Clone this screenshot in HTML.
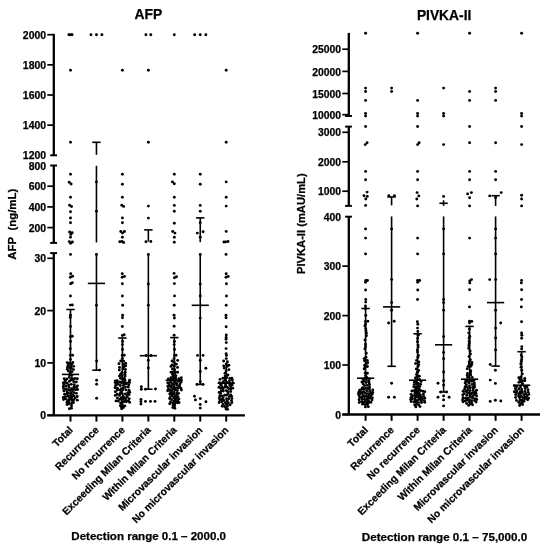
<!DOCTYPE html>
<html lang="en">
<head>
<meta charset="utf-8">
<title>AFP and PIVKA-II distribution</title>
<style>
html,body{margin:0;padding:0;background:#fff;}
body{width:550px;height:548px;overflow:hidden;}
svg{display:block;}
svg text{font-family:'Liberation Sans', Arial, Helvetica, sans-serif;font-weight:bold;fill:#000;stroke:#000;stroke-width:0.25px;stroke-linejoin:round;}
svg line{stroke:#000;stroke-linecap:butt;}
svg circle{fill:#000;}
</style>
</head>
<body>
<svg width="550" height="548" viewBox="0 0 550 548">
<rect x="0" y="0" width="550" height="548" fill="#ffffff"/>
<g>
<line x1="53.8" y1="33.85" x2="53.8" y2="155.3" stroke-width="2.3"/>
<line x1="53.8" y1="165.5" x2="53.8" y2="242.9" stroke-width="2.3"/>
<line x1="53.8" y1="253.1" x2="53.8" y2="415.3" stroke-width="2.3"/>
<line x1="47.3" y1="34.7" x2="53.8" y2="34.7" stroke-width="1.7"/>
<text x="46.1" y="38.86" font-size="10.45" text-anchor="end">2000</text>
<line x1="47.3" y1="64.85" x2="53.8" y2="64.85" stroke-width="1.7"/>
<text x="46.1" y="69.01" font-size="10.45" text-anchor="end">1800</text>
<line x1="47.3" y1="95" x2="53.8" y2="95" stroke-width="1.7"/>
<text x="46.1" y="99.16" font-size="10.45" text-anchor="end">1600</text>
<line x1="47.3" y1="125.15" x2="53.8" y2="125.15" stroke-width="1.7"/>
<text x="46.1" y="129.31" font-size="10.45" text-anchor="end">1400</text>
<text x="46.1" y="159.46" font-size="10.45" text-anchor="end">1200</text>
<text x="46.1" y="169.66" font-size="10.45" text-anchor="end">800</text>
<line x1="47.3" y1="186.2" x2="53.8" y2="186.2" stroke-width="1.7"/>
<text x="46.1" y="190.36" font-size="10.45" text-anchor="end">600</text>
<line x1="47.3" y1="206.9" x2="53.8" y2="206.9" stroke-width="1.7"/>
<text x="46.1" y="211.06" font-size="10.45" text-anchor="end">400</text>
<line x1="47.3" y1="227.6" x2="53.8" y2="227.6" stroke-width="1.7"/>
<text x="46.1" y="231.76" font-size="10.45" text-anchor="end">200</text>
<line x1="47.3" y1="258.3" x2="53.8" y2="258.3" stroke-width="1.7"/>
<text x="46.1" y="262.46" font-size="10.45" text-anchor="end">30</text>
<line x1="47.3" y1="310.6" x2="53.8" y2="310.6" stroke-width="1.7"/>
<text x="46.1" y="314.76" font-size="10.45" text-anchor="end">20</text>
<line x1="47.3" y1="362.9" x2="53.8" y2="362.9" stroke-width="1.7"/>
<text x="46.1" y="367.06" font-size="10.45" text-anchor="end">10</text>
<line x1="47.3" y1="415.3" x2="53.8" y2="415.3" stroke-width="1.7"/>
<text x="46.1" y="419.46" font-size="10.45" text-anchor="end">0</text>
<line x1="50.2" y1="155.3" x2="57" y2="155.3" stroke-width="2"/>
<line x1="50.2" y1="165.5" x2="57" y2="165.5" stroke-width="2"/>
<line x1="50.2" y1="242.9" x2="57" y2="242.9" stroke-width="2"/>
<line x1="50.2" y1="253.1" x2="57" y2="253.1" stroke-width="2"/>
<line x1="47.3" y1="415.3" x2="244.9" y2="415.3" stroke-width="2.3"/>
<line x1="70.5" y1="415.3" x2="70.5" y2="421.6" stroke-width="2"/>
<text x="73.6" y="430.7" font-size="10.35" text-anchor="end" transform="rotate(-45 73.6 430.7)">Total</text>
<line x1="96.45" y1="415.3" x2="96.45" y2="421.6" stroke-width="2"/>
<text x="99.55" y="430.7" font-size="10.35" text-anchor="end" transform="rotate(-45 99.55 430.7)">Recurrence</text>
<line x1="122.4" y1="415.3" x2="122.4" y2="421.6" stroke-width="2"/>
<text x="125.5" y="430.7" font-size="10.35" text-anchor="end" transform="rotate(-45 125.5 430.7)">No recurrence</text>
<line x1="148.35" y1="415.3" x2="148.35" y2="421.6" stroke-width="2"/>
<text x="151.45" y="430.7" font-size="10.35" text-anchor="end" transform="rotate(-45 151.45 430.7)">Exceeding Milan Criteria</text>
<line x1="174.3" y1="415.3" x2="174.3" y2="421.6" stroke-width="2"/>
<text x="177.4" y="430.7" font-size="10.35" text-anchor="end" transform="rotate(-45 177.4 430.7)">Within Milan Criteria</text>
<line x1="200.25" y1="415.3" x2="200.25" y2="421.6" stroke-width="2"/>
<text x="203.35" y="430.7" font-size="10.35" text-anchor="end" transform="rotate(-45 203.35 430.7)">Microvascular invasion</text>
<line x1="226.2" y1="415.3" x2="226.2" y2="421.6" stroke-width="2"/>
<text x="229.3" y="430.7" font-size="10.35" text-anchor="end" transform="rotate(-45 229.3 430.7)">No microvascular invasion</text>
<text x="148.3" y="18.6" font-size="13.8" text-anchor="middle">AFP</text>
<text x="15.7" y="224.2" font-size="11.4" text-anchor="middle" transform="rotate(-90 15.7 224.2)">AFP&#160;&#160;(ng/mL)</text>
<text x="148.7" y="540.4" font-size="11.55" text-anchor="middle">Detection range 0.1 &#8211; 2000.0</text>
<line x1="70.5" y1="309.5" x2="70.5" y2="374.5" stroke-width="1.6"/>
<line x1="66.3" y1="309.5" x2="74.7" y2="309.5" stroke-width="1.6"/>
<line x1="61.9" y1="374.4" x2="79.1" y2="374.4" stroke-width="1.6"/>
<line x1="96.45" y1="142.3" x2="96.45" y2="154.8" stroke-width="1.6"/>
<line x1="96.45" y1="165.8" x2="96.45" y2="242.4" stroke-width="1.6"/>
<line x1="96.45" y1="253.1" x2="96.45" y2="370.2" stroke-width="1.6"/>
<line x1="92.25" y1="142.3" x2="100.65" y2="142.3" stroke-width="1.6"/>
<line x1="92.25" y1="370.2" x2="100.65" y2="370.2" stroke-width="1.6"/>
<line x1="87.85" y1="283.4" x2="105.05" y2="283.4" stroke-width="1.6"/>
<line x1="122.4" y1="338" x2="122.4" y2="382.6" stroke-width="1.6"/>
<line x1="118.2" y1="338" x2="126.6" y2="338" stroke-width="1.6"/>
<line x1="113.8" y1="382.6" x2="131" y2="382.6" stroke-width="1.6"/>
<line x1="148.35" y1="229.9" x2="148.35" y2="241.7" stroke-width="1.6"/>
<line x1="148.35" y1="254.4" x2="148.35" y2="389.2" stroke-width="1.6"/>
<line x1="144.15" y1="229.9" x2="152.55" y2="229.9" stroke-width="1.6"/>
<line x1="144.15" y1="389.2" x2="152.55" y2="389.2" stroke-width="1.6"/>
<line x1="139.75" y1="355.7" x2="156.95" y2="355.7" stroke-width="1.6"/>
<line x1="174.3" y1="337.6" x2="174.3" y2="380.2" stroke-width="1.6"/>
<line x1="170.1" y1="337.6" x2="178.5" y2="337.6" stroke-width="1.6"/>
<line x1="165.7" y1="380.2" x2="182.9" y2="380.2" stroke-width="1.6"/>
<line x1="200.25" y1="217.9" x2="200.25" y2="242.2" stroke-width="1.6"/>
<line x1="200.25" y1="254.4" x2="200.25" y2="384.4" stroke-width="1.6"/>
<line x1="196.05" y1="217.9" x2="204.45" y2="217.9" stroke-width="1.6"/>
<line x1="196.05" y1="384.4" x2="204.45" y2="384.4" stroke-width="1.6"/>
<line x1="191.65" y1="305.3" x2="208.85" y2="305.3" stroke-width="1.6"/>
<line x1="226.2" y1="364" x2="226.2" y2="383.2" stroke-width="1.6"/>
<line x1="217.6" y1="383.2" x2="234.8" y2="383.2" stroke-width="1.6"/>
<line x1="348.8" y1="32.9" x2="348.8" y2="116" stroke-width="2.3"/>
<line x1="348.8" y1="126.6" x2="348.8" y2="205.9" stroke-width="2.3"/>
<line x1="348.8" y1="216.7" x2="348.8" y2="414.5" stroke-width="2.3"/>
<line x1="342.3" y1="49.2" x2="348.8" y2="49.2" stroke-width="1.7"/>
<text x="340.9" y="53.33" font-size="10.35" text-anchor="end">25000</text>
<line x1="342.3" y1="71.4" x2="348.8" y2="71.4" stroke-width="1.7"/>
<text x="340.9" y="75.53" font-size="10.35" text-anchor="end">20000</text>
<line x1="342.3" y1="93.5" x2="348.8" y2="93.5" stroke-width="1.7"/>
<text x="340.9" y="97.63" font-size="10.35" text-anchor="end">15000</text>
<line x1="342.3" y1="114.7" x2="348.8" y2="114.7" stroke-width="1.7"/>
<text x="340.9" y="118.83" font-size="10.35" text-anchor="end">10000</text>
<line x1="342.3" y1="132.3" x2="348.8" y2="132.3" stroke-width="1.7"/>
<text x="340.9" y="136.43" font-size="10.35" text-anchor="end">3000</text>
<line x1="342.3" y1="161.8" x2="348.8" y2="161.8" stroke-width="1.7"/>
<text x="340.9" y="165.93" font-size="10.35" text-anchor="end">2000</text>
<line x1="342.3" y1="191.2" x2="348.8" y2="191.2" stroke-width="1.7"/>
<text x="340.9" y="195.33" font-size="10.35" text-anchor="end">1000</text>
<text x="340.9" y="220.83" font-size="10.35" text-anchor="end">400</text>
<line x1="342.3" y1="266.1" x2="348.8" y2="266.1" stroke-width="1.7"/>
<text x="340.9" y="270.23" font-size="10.35" text-anchor="end">300</text>
<line x1="342.3" y1="315.6" x2="348.8" y2="315.6" stroke-width="1.7"/>
<text x="340.9" y="319.73" font-size="10.35" text-anchor="end">200</text>
<line x1="342.3" y1="365" x2="348.8" y2="365" stroke-width="1.7"/>
<text x="340.9" y="369.13" font-size="10.35" text-anchor="end">100</text>
<line x1="342.3" y1="414.5" x2="348.8" y2="414.5" stroke-width="1.7"/>
<text x="340.9" y="418.63" font-size="10.35" text-anchor="end">0</text>
<line x1="345.1" y1="116" x2="351.9" y2="116" stroke-width="2"/>
<line x1="345.1" y1="126.6" x2="351.9" y2="126.6" stroke-width="2"/>
<line x1="345.1" y1="205.9" x2="351.9" y2="205.9" stroke-width="2"/>
<line x1="345.1" y1="216.7" x2="351.9" y2="216.7" stroke-width="2"/>
<line x1="342.3" y1="414.5" x2="540" y2="414.5" stroke-width="2.3"/>
<line x1="365.6" y1="414.5" x2="365.6" y2="420.8" stroke-width="2"/>
<text x="368.7" y="430.7" font-size="10.35" text-anchor="end" transform="rotate(-45 368.7 430.7)">Total</text>
<line x1="391.6" y1="414.5" x2="391.6" y2="420.8" stroke-width="2"/>
<text x="394.7" y="430.7" font-size="10.35" text-anchor="end" transform="rotate(-45 394.7 430.7)">Recurrence</text>
<line x1="417.6" y1="414.5" x2="417.6" y2="420.8" stroke-width="2"/>
<text x="420.7" y="430.7" font-size="10.35" text-anchor="end" transform="rotate(-45 420.7 430.7)">No recurrence</text>
<line x1="443.6" y1="414.5" x2="443.6" y2="420.8" stroke-width="2"/>
<text x="446.7" y="430.7" font-size="10.35" text-anchor="end" transform="rotate(-45 446.7 430.7)">Exceeding Milan Criteria</text>
<line x1="469.6" y1="414.5" x2="469.6" y2="420.8" stroke-width="2"/>
<text x="472.7" y="430.7" font-size="10.35" text-anchor="end" transform="rotate(-45 472.7 430.7)">Within Milan Criteria</text>
<line x1="495.6" y1="414.5" x2="495.6" y2="420.8" stroke-width="2"/>
<text x="498.7" y="430.7" font-size="10.35" text-anchor="end" transform="rotate(-45 498.7 430.7)">Microvascular invasion</text>
<line x1="521.6" y1="414.5" x2="521.6" y2="420.8" stroke-width="2"/>
<text x="524.7" y="430.7" font-size="10.35" text-anchor="end" transform="rotate(-45 524.7 430.7)">No microvascular invasion</text>
<text x="444.1" y="19.6" font-size="13.8" text-anchor="middle">PIVKA-II</text>
<text x="305.3" y="223.7" font-size="11.2" text-anchor="middle" transform="rotate(-90 305.3 223.7)">PIVKA-II (mAU/mL)</text>
<text x="444.5" y="540.8" font-size="11.63" text-anchor="middle">Detection range 0.1 &#8211; 75,000.0</text>
<line x1="365.6" y1="308.5" x2="365.6" y2="378.2" stroke-width="1.6"/>
<line x1="361.4" y1="308.5" x2="369.8" y2="308.5" stroke-width="1.6"/>
<line x1="357" y1="378.2" x2="374.2" y2="378.2" stroke-width="1.6"/>
<line x1="391.6" y1="196.9" x2="391.6" y2="205.4" stroke-width="1.6"/>
<line x1="391.6" y1="216.4" x2="391.6" y2="366.3" stroke-width="1.6"/>
<line x1="387.4" y1="196.9" x2="395.8" y2="196.9" stroke-width="1.6"/>
<line x1="387.4" y1="366.3" x2="395.8" y2="366.3" stroke-width="1.6"/>
<line x1="383" y1="306.9" x2="400.2" y2="306.9" stroke-width="1.6"/>
<line x1="417.6" y1="333.8" x2="417.6" y2="380.2" stroke-width="1.6"/>
<line x1="413.4" y1="333.8" x2="421.8" y2="333.8" stroke-width="1.6"/>
<line x1="409" y1="380.2" x2="426.2" y2="380.2" stroke-width="1.6"/>
<line x1="443.6" y1="200.3" x2="443.6" y2="205.9" stroke-width="1.6"/>
<line x1="443.6" y1="216.4" x2="443.6" y2="392" stroke-width="1.6"/>
<line x1="439.4" y1="203.3" x2="447.8" y2="203.3" stroke-width="1.6"/>
<line x1="439.4" y1="392" x2="447.8" y2="392" stroke-width="1.6"/>
<line x1="435" y1="344.8" x2="452.2" y2="344.8" stroke-width="1.6"/>
<line x1="469.6" y1="326.4" x2="469.6" y2="379.2" stroke-width="1.6"/>
<line x1="465.4" y1="326.4" x2="473.8" y2="326.4" stroke-width="1.6"/>
<line x1="461" y1="379.2" x2="478.2" y2="379.2" stroke-width="1.6"/>
<line x1="495.6" y1="195.7" x2="495.6" y2="205.9" stroke-width="1.6"/>
<line x1="495.6" y1="216.4" x2="495.6" y2="366.1" stroke-width="1.6"/>
<line x1="491.4" y1="195.7" x2="499.8" y2="195.7" stroke-width="1.6"/>
<line x1="491.4" y1="366.1" x2="499.8" y2="366.1" stroke-width="1.6"/>
<line x1="487" y1="302.6" x2="504.2" y2="302.6" stroke-width="1.6"/>
<line x1="521.6" y1="351.7" x2="521.6" y2="385.2" stroke-width="1.6"/>
<line x1="517.4" y1="351.7" x2="525.8" y2="351.7" stroke-width="1.6"/>
<line x1="513" y1="385.2" x2="530.2" y2="385.2" stroke-width="1.6"/>
</g>
<g>
<circle cx="68.9" cy="34.7" r="1.45"/>
<circle cx="70.5" cy="34.7" r="1.45"/>
<circle cx="72.1" cy="34.7" r="1.45"/>
<circle cx="90.95" cy="34.7" r="1.45"/>
<circle cx="96.45" cy="34.7" r="1.45"/>
<circle cx="101.95" cy="34.7" r="1.45"/>
<circle cx="145.9" cy="34.7" r="1.45"/>
<circle cx="150.8" cy="34.7" r="1.45"/>
<circle cx="174.3" cy="34.7" r="1.45"/>
<circle cx="194.65" cy="34.7" r="1.45"/>
<circle cx="200.25" cy="34.7" r="1.45"/>
<circle cx="205.85" cy="34.7" r="1.45"/>
<circle cx="70.5" cy="70.3" r="1.45"/>
<circle cx="122.4" cy="70.3" r="1.45"/>
<circle cx="148.35" cy="70.3" r="1.45"/>
<circle cx="226.2" cy="70.3" r="1.45"/>
<circle cx="70.5" cy="142.3" r="1.45"/>
<circle cx="148.35" cy="142.3" r="1.45"/>
<circle cx="226.2" cy="142.3" r="1.45"/>
<circle cx="70.5" cy="174.2" r="1.45"/>
<circle cx="69.2" cy="182.2" r="1.45"/>
<circle cx="71.1" cy="184" r="1.45"/>
<circle cx="70.5" cy="197.2" r="1.45"/>
<circle cx="69.6" cy="205.2" r="1.45"/>
<circle cx="71.5" cy="206.5" r="1.45"/>
<circle cx="70.5" cy="211.8" r="1.45"/>
<circle cx="70.5" cy="218" r="1.45"/>
<circle cx="70.5" cy="222.7" r="1.45"/>
<circle cx="69.6" cy="232" r="1.45"/>
<circle cx="72.2" cy="232.7" r="1.45"/>
<circle cx="70.8" cy="234.4" r="1.45"/>
<circle cx="70.5" cy="237.2" r="1.45"/>
<circle cx="69.3" cy="241.6" r="1.45"/>
<circle cx="72.4" cy="242" r="1.45"/>
<circle cx="70.6" cy="243.3" r="1.45"/>
<circle cx="96.45" cy="181.9" r="1.45"/>
<circle cx="96.45" cy="211.2" r="1.45"/>
<circle cx="122.4" cy="174.2" r="1.45"/>
<circle cx="122.4" cy="184.2" r="1.45"/>
<circle cx="122.4" cy="197.2" r="1.45"/>
<circle cx="121.8" cy="205.3" r="1.45"/>
<circle cx="123.6" cy="206.4" r="1.45"/>
<circle cx="122.4" cy="217.9" r="1.45"/>
<circle cx="122.4" cy="222.8" r="1.45"/>
<circle cx="120.8" cy="231.5" r="1.45"/>
<circle cx="124.4" cy="231.5" r="1.45"/>
<circle cx="122.5" cy="233.1" r="1.45"/>
<circle cx="122.4" cy="237.2" r="1.45"/>
<circle cx="119.8" cy="241.8" r="1.45"/>
<circle cx="122.1" cy="241.5" r="1.45"/>
<circle cx="123.6" cy="242.5" r="1.45"/>
<circle cx="148.35" cy="206.1" r="1.45"/>
<circle cx="148.35" cy="218.1" r="1.45"/>
<circle cx="145.95" cy="241.7" r="1.45"/>
<circle cx="150.85" cy="241.5" r="1.45"/>
<circle cx="174.3" cy="174.2" r="1.45"/>
<circle cx="172.4" cy="181.9" r="1.45"/>
<circle cx="174.3" cy="183.7" r="1.45"/>
<circle cx="174.3" cy="197.2" r="1.45"/>
<circle cx="174.3" cy="205.4" r="1.45"/>
<circle cx="174.3" cy="211.2" r="1.45"/>
<circle cx="174.3" cy="223.3" r="1.45"/>
<circle cx="172.7" cy="231.5" r="1.45"/>
<circle cx="174.9" cy="233.1" r="1.45"/>
<circle cx="174.3" cy="237.2" r="1.45"/>
<circle cx="174.3" cy="242.2" r="1.45"/>
<circle cx="200.25" cy="174.2" r="1.45"/>
<circle cx="200.25" cy="184.2" r="1.45"/>
<circle cx="200.25" cy="205.4" r="1.45"/>
<circle cx="200.25" cy="211.2" r="1.45"/>
<circle cx="200.25" cy="222.8" r="1.45"/>
<circle cx="197.35" cy="233.1" r="1.45"/>
<circle cx="203.15" cy="231.8" r="1.45"/>
<circle cx="200.25" cy="237.2" r="1.45"/>
<circle cx="226.2" cy="181.9" r="1.45"/>
<circle cx="226.2" cy="197.2" r="1.45"/>
<circle cx="226.2" cy="206.1" r="1.45"/>
<circle cx="226.2" cy="231.4" r="1.45"/>
<circle cx="223.9" cy="242" r="1.45"/>
<circle cx="225.8" cy="241.9" r="1.45"/>
<circle cx="228" cy="241.5" r="1.45"/>
<circle cx="70.41" cy="359.4" r="1.45"/>
<circle cx="70.33" cy="355.4" r="1.45"/>
<circle cx="72.58" cy="355.3" r="1.45"/>
<circle cx="70.29" cy="348.7" r="1.45"/>
<circle cx="70.52" cy="341.4" r="1.45"/>
<circle cx="70.43" cy="336.8" r="1.45"/>
<circle cx="72.28" cy="336.2" r="1.45"/>
<circle cx="70.5" cy="326.5" r="1.45"/>
<circle cx="70.27" cy="317.5" r="1.45"/>
<circle cx="70.47" cy="315.2" r="1.45"/>
<circle cx="70.28" cy="305.1" r="1.45"/>
<circle cx="72.3" cy="305" r="1.45"/>
<circle cx="70.46" cy="296" r="1.45"/>
<circle cx="70.66" cy="283.8" r="1.45"/>
<circle cx="72.31" cy="282.8" r="1.45"/>
<circle cx="70.36" cy="277.3" r="1.45"/>
<circle cx="72.56" cy="276.3" r="1.45"/>
<circle cx="70.72" cy="273.8" r="1.45"/>
<circle cx="70.54" cy="254.4" r="1.45"/>
<circle cx="73.64" cy="366.36" r="1.45"/>
<circle cx="72.87" cy="362.51" r="1.45"/>
<circle cx="68.15" cy="365.19" r="1.45"/>
<circle cx="69.24" cy="363.3" r="1.45"/>
<circle cx="68.39" cy="370.98" r="1.45"/>
<circle cx="71.42" cy="368.4" r="1.45"/>
<circle cx="70.82" cy="366.1" r="1.45"/>
<circle cx="71.69" cy="364.27" r="1.45"/>
<circle cx="72.01" cy="371.63" r="1.45"/>
<circle cx="67.46" cy="367.38" r="1.45"/>
<circle cx="67.35" cy="369.36" r="1.45"/>
<circle cx="67.2" cy="362.58" r="1.45"/>
<circle cx="70.28" cy="372.92" r="1.45"/>
<circle cx="69.55" cy="367.69" r="1.45"/>
<circle cx="73.51" cy="369.62" r="1.45"/>
<circle cx="71.81" cy="375.46" r="1.45"/>
<circle cx="71.87" cy="378.43" r="1.45"/>
<circle cx="69.66" cy="375.01" r="1.45"/>
<circle cx="69.25" cy="377.4" r="1.45"/>
<circle cx="76.4" cy="393.36" r="1.45"/>
<circle cx="74.1" cy="396.1" r="1.45"/>
<circle cx="65.87" cy="389.26" r="1.45"/>
<circle cx="68.09" cy="396.26" r="1.45"/>
<circle cx="77.29" cy="396.52" r="1.45"/>
<circle cx="69.08" cy="387.41" r="1.45"/>
<circle cx="73.74" cy="399.8" r="1.45"/>
<circle cx="65.13" cy="382.33" r="1.45"/>
<circle cx="76.33" cy="381.9" r="1.45"/>
<circle cx="65.4" cy="396.65" r="1.45"/>
<circle cx="68.35" cy="393.29" r="1.45"/>
<circle cx="77.28" cy="378.82" r="1.45"/>
<circle cx="70.88" cy="393.12" r="1.45"/>
<circle cx="69.55" cy="399.51" r="1.45"/>
<circle cx="75.2" cy="398.11" r="1.45"/>
<circle cx="66.93" cy="383.25" r="1.45"/>
<circle cx="67.03" cy="391.69" r="1.45"/>
<circle cx="71.7" cy="388.81" r="1.45"/>
<circle cx="73.74" cy="389.15" r="1.45"/>
<circle cx="74.42" cy="384.73" r="1.45"/>
<circle cx="70.18" cy="390.5" r="1.45"/>
<circle cx="71.36" cy="384.34" r="1.45"/>
<circle cx="65.52" cy="398.68" r="1.45"/>
<circle cx="72.81" cy="394.61" r="1.45"/>
<circle cx="77.55" cy="389.46" r="1.45"/>
<circle cx="66.12" cy="386.13" r="1.45"/>
<circle cx="63.56" cy="388.41" r="1.45"/>
<circle cx="63.87" cy="384.48" r="1.45"/>
<circle cx="69.38" cy="381.42" r="1.45"/>
<circle cx="71.52" cy="399.18" r="1.45"/>
<circle cx="64.59" cy="394.26" r="1.45"/>
<circle cx="73.21" cy="379.79" r="1.45"/>
<circle cx="66.91" cy="378.91" r="1.45"/>
<circle cx="77.31" cy="400.14" r="1.45"/>
<circle cx="67.76" cy="400.23" r="1.45"/>
<circle cx="63.32" cy="386.52" r="1.45"/>
<circle cx="77.48" cy="385.84" r="1.45"/>
<circle cx="73.73" cy="381.86" r="1.45"/>
<circle cx="73.87" cy="392.61" r="1.45"/>
<circle cx="71.71" cy="397.09" r="1.45"/>
<circle cx="66.61" cy="394.1" r="1.45"/>
<circle cx="74.79" cy="378.57" r="1.45"/>
<circle cx="70.54" cy="395.34" r="1.45"/>
<circle cx="65.42" cy="380.24" r="1.45"/>
<circle cx="64.17" cy="378.78" r="1.45"/>
<circle cx="63.55" cy="399.57" r="1.45"/>
<circle cx="63.33" cy="397.41" r="1.45"/>
<circle cx="68.66" cy="385.02" r="1.45"/>
<circle cx="63.87" cy="390.91" r="1.45"/>
<circle cx="70.85" cy="380.08" r="1.45"/>
<circle cx="76.23" cy="387.35" r="1.45"/>
<circle cx="73.93" cy="386.89" r="1.45"/>
<circle cx="72.5" cy="390.88" r="1.45"/>
<circle cx="72.37" cy="400.84" r="1.45"/>
<circle cx="69.6" cy="397.79" r="1.45"/>
<circle cx="75.56" cy="389.83" r="1.45"/>
<circle cx="68.3" cy="389.63" r="1.45"/>
<circle cx="63.34" cy="382.68" r="1.45"/>
<circle cx="68.97" cy="403.89" r="1.45"/>
<circle cx="69.11" cy="401.98" r="1.45"/>
<circle cx="71.61" cy="403.55" r="1.45"/>
<circle cx="73.5" cy="402.45" r="1.45"/>
<circle cx="67.05" cy="404.45" r="1.45"/>
<circle cx="67.04" cy="402.2" r="1.45"/>
<circle cx="71.51" cy="405.76" r="1.45"/>
<circle cx="71.48" cy="408.16" r="1.45"/>
<circle cx="69.43" cy="408.74" r="1.45"/>
<circle cx="96.45" cy="254.5" r="1.45"/>
<circle cx="96.45" cy="305.2" r="1.45"/>
<circle cx="96.65" cy="361" r="1.45"/>
<circle cx="99.45" cy="370.1" r="1.45"/>
<circle cx="96.65" cy="380.2" r="1.45"/>
<circle cx="96.65" cy="384.2" r="1.45"/>
<circle cx="96.65" cy="398.2" r="1.45"/>
<circle cx="122.43" cy="358.6" r="1.45"/>
<circle cx="122.17" cy="355.4" r="1.45"/>
<circle cx="124.21" cy="355.3" r="1.45"/>
<circle cx="122.56" cy="349.5" r="1.45"/>
<circle cx="122.44" cy="344.6" r="1.45"/>
<circle cx="122.61" cy="341.4" r="1.45"/>
<circle cx="122.37" cy="335.5" r="1.45"/>
<circle cx="124.16" cy="334.8" r="1.45"/>
<circle cx="122.34" cy="326.5" r="1.45"/>
<circle cx="122.45" cy="317.8" r="1.45"/>
<circle cx="122.62" cy="315.2" r="1.45"/>
<circle cx="122.64" cy="305.3" r="1.45"/>
<circle cx="122.39" cy="296" r="1.45"/>
<circle cx="122.36" cy="283.7" r="1.45"/>
<circle cx="122.2" cy="277.2" r="1.45"/>
<circle cx="124.47" cy="276.4" r="1.45"/>
<circle cx="122.26" cy="273.8" r="1.45"/>
<circle cx="119.01" cy="363.81" r="1.45"/>
<circle cx="123.69" cy="361.09" r="1.45"/>
<circle cx="125.66" cy="363.25" r="1.45"/>
<circle cx="120.6" cy="374.31" r="1.45"/>
<circle cx="124.89" cy="374.2" r="1.45"/>
<circle cx="125.43" cy="369.52" r="1.45"/>
<circle cx="125.65" cy="365.7" r="1.45"/>
<circle cx="119.46" cy="376.12" r="1.45"/>
<circle cx="124.01" cy="366.75" r="1.45"/>
<circle cx="119.32" cy="370" r="1.45"/>
<circle cx="121.83" cy="372.65" r="1.45"/>
<circle cx="124.39" cy="378.48" r="1.45"/>
<circle cx="125.17" cy="372.13" r="1.45"/>
<circle cx="120.74" cy="361.03" r="1.45"/>
<circle cx="123.01" cy="368.82" r="1.45"/>
<circle cx="125.11" cy="376.1" r="1.45"/>
<circle cx="119.5" cy="367.42" r="1.45"/>
<circle cx="120.54" cy="378.24" r="1.45"/>
<circle cx="122.12" cy="375.65" r="1.45"/>
<circle cx="123.81" cy="364.34" r="1.45"/>
<circle cx="123.34" cy="388.03" r="1.45"/>
<circle cx="115.75" cy="383" r="1.45"/>
<circle cx="120.56" cy="402.93" r="1.45"/>
<circle cx="124.34" cy="381.99" r="1.45"/>
<circle cx="117.38" cy="398" r="1.45"/>
<circle cx="120.14" cy="393.53" r="1.45"/>
<circle cx="115.4" cy="391.71" r="1.45"/>
<circle cx="129.56" cy="380.29" r="1.45"/>
<circle cx="122.2" cy="399.85" r="1.45"/>
<circle cx="121.32" cy="397.81" r="1.45"/>
<circle cx="126.3" cy="401.74" r="1.45"/>
<circle cx="129.17" cy="398.74" r="1.45"/>
<circle cx="115.65" cy="385.47" r="1.45"/>
<circle cx="117.74" cy="384.22" r="1.45"/>
<circle cx="127.81" cy="392.6" r="1.45"/>
<circle cx="128.93" cy="390.27" r="1.45"/>
<circle cx="116.04" cy="400.88" r="1.45"/>
<circle cx="129.11" cy="382.32" r="1.45"/>
<circle cx="123.34" cy="385.54" r="1.45"/>
<circle cx="129.06" cy="394.55" r="1.45"/>
<circle cx="117.43" cy="390.04" r="1.45"/>
<circle cx="129.58" cy="402.2" r="1.45"/>
<circle cx="120.24" cy="385.51" r="1.45"/>
<circle cx="128.31" cy="400.71" r="1.45"/>
<circle cx="125.46" cy="397.98" r="1.45"/>
<circle cx="117.21" cy="380.81" r="1.45"/>
<circle cx="119.46" cy="395.41" r="1.45"/>
<circle cx="119.83" cy="381.98" r="1.45"/>
<circle cx="115.28" cy="395.42" r="1.45"/>
<circle cx="128.74" cy="384.68" r="1.45"/>
<circle cx="121.63" cy="382.78" r="1.45"/>
<circle cx="120.06" cy="390.13" r="1.45"/>
<circle cx="117.18" cy="394.26" r="1.45"/>
<circle cx="123.18" cy="396.27" r="1.45"/>
<circle cx="119.98" cy="399.23" r="1.45"/>
<circle cx="128.29" cy="386.97" r="1.45"/>
<circle cx="118.29" cy="400.93" r="1.45"/>
<circle cx="126.35" cy="383.73" r="1.45"/>
<circle cx="122.33" cy="393.8" r="1.45"/>
<circle cx="125.43" cy="393.89" r="1.45"/>
<circle cx="123.61" cy="398.57" r="1.45"/>
<circle cx="117.49" cy="388.13" r="1.45"/>
<circle cx="122.69" cy="379.61" r="1.45"/>
<circle cx="122.63" cy="389.98" r="1.45"/>
<circle cx="125.48" cy="387.04" r="1.45"/>
<circle cx="122.32" cy="401.92" r="1.45"/>
<circle cx="125.57" cy="399.93" r="1.45"/>
<circle cx="121.24" cy="388.64" r="1.45"/>
<circle cx="124.34" cy="401.52" r="1.45"/>
<circle cx="121.43" cy="391.73" r="1.45"/>
<circle cx="125.84" cy="389.84" r="1.45"/>
<circle cx="129.68" cy="392.15" r="1.45"/>
<circle cx="115.28" cy="380.96" r="1.45"/>
<circle cx="125.02" cy="380.19" r="1.45"/>
<circle cx="115.11" cy="387.7" r="1.45"/>
<circle cx="127.2" cy="397.07" r="1.45"/>
<circle cx="124.42" cy="383.86" r="1.45"/>
<circle cx="127.16" cy="395.15" r="1.45"/>
<circle cx="120.39" cy="405.71" r="1.45"/>
<circle cx="122.16" cy="403.97" r="1.45"/>
<circle cx="124.85" cy="405.91" r="1.45"/>
<circle cx="122.78" cy="405.88" r="1.45"/>
<circle cx="121.67" cy="408.71" r="1.45"/>
<circle cx="123.37" cy="407.61" r="1.45"/>
<circle cx="121.45" cy="407.04" r="1.45"/>
<circle cx="148.35" cy="254.4" r="1.45"/>
<circle cx="148.35" cy="283.9" r="1.45"/>
<circle cx="148.35" cy="305.3" r="1.45"/>
<circle cx="146.15" cy="355.5" r="1.45"/>
<circle cx="151.05" cy="355.5" r="1.45"/>
<circle cx="148.35" cy="360.3" r="1.45"/>
<circle cx="148.35" cy="368" r="1.45"/>
<circle cx="141.35" cy="386.8" r="1.45"/>
<circle cx="141.35" cy="389.2" r="1.45"/>
<circle cx="145.55" cy="389.2" r="1.45"/>
<circle cx="155.45" cy="389" r="1.45"/>
<circle cx="140.95" cy="399.5" r="1.45"/>
<circle cx="140.95" cy="401.6" r="1.45"/>
<circle cx="145.45" cy="401.4" r="1.45"/>
<circle cx="150.45" cy="401.4" r="1.45"/>
<circle cx="155.05" cy="401.4" r="1.45"/>
<circle cx="140.95" cy="404" r="1.45"/>
<circle cx="174.11" cy="358.6" r="1.45"/>
<circle cx="174.54" cy="355.4" r="1.45"/>
<circle cx="176.05" cy="355.3" r="1.45"/>
<circle cx="174.51" cy="349.5" r="1.45"/>
<circle cx="174.13" cy="344.6" r="1.45"/>
<circle cx="174.42" cy="341.4" r="1.45"/>
<circle cx="174.1" cy="335.2" r="1.45"/>
<circle cx="174.13" cy="326.3" r="1.45"/>
<circle cx="174.39" cy="318" r="1.45"/>
<circle cx="174.1" cy="315.3" r="1.45"/>
<circle cx="174.22" cy="305.3" r="1.45"/>
<circle cx="174.51" cy="295.9" r="1.45"/>
<circle cx="174.41" cy="283.6" r="1.45"/>
<circle cx="174.49" cy="277.8" r="1.45"/>
<circle cx="176.54" cy="276.8" r="1.45"/>
<circle cx="174.07" cy="273.4" r="1.45"/>
<circle cx="176.29" cy="364.15" r="1.45"/>
<circle cx="171.16" cy="372.2" r="1.45"/>
<circle cx="172.48" cy="368.93" r="1.45"/>
<circle cx="177.64" cy="360.35" r="1.45"/>
<circle cx="174.21" cy="362.13" r="1.45"/>
<circle cx="174.27" cy="366.26" r="1.45"/>
<circle cx="173.28" cy="376.26" r="1.45"/>
<circle cx="175.87" cy="375.63" r="1.45"/>
<circle cx="172.11" cy="364.83" r="1.45"/>
<circle cx="170.97" cy="366.42" r="1.45"/>
<circle cx="175.34" cy="372.18" r="1.45"/>
<circle cx="174.63" cy="369.63" r="1.45"/>
<circle cx="177.58" cy="372.22" r="1.45"/>
<circle cx="177.52" cy="367.42" r="1.45"/>
<circle cx="170.94" cy="377.67" r="1.45"/>
<circle cx="173.11" cy="372.29" r="1.45"/>
<circle cx="172.52" cy="374.4" r="1.45"/>
<circle cx="174.45" cy="374.22" r="1.45"/>
<circle cx="172.11" cy="361.02" r="1.45"/>
<circle cx="171.05" cy="387.25" r="1.45"/>
<circle cx="170.58" cy="382.01" r="1.45"/>
<circle cx="168.42" cy="388.79" r="1.45"/>
<circle cx="179.47" cy="386.16" r="1.45"/>
<circle cx="173.19" cy="380.38" r="1.45"/>
<circle cx="176" cy="388.24" r="1.45"/>
<circle cx="167.73" cy="382.64" r="1.45"/>
<circle cx="172.39" cy="383.59" r="1.45"/>
<circle cx="176.43" cy="383.13" r="1.45"/>
<circle cx="177.35" cy="390.62" r="1.45"/>
<circle cx="174.25" cy="384.69" r="1.45"/>
<circle cx="175.64" cy="378.04" r="1.45"/>
<circle cx="173.07" cy="388.87" r="1.45"/>
<circle cx="179.92" cy="384" r="1.45"/>
<circle cx="178.19" cy="387.93" r="1.45"/>
<circle cx="178.87" cy="378.73" r="1.45"/>
<circle cx="168.37" cy="379.05" r="1.45"/>
<circle cx="174.05" cy="387.16" r="1.45"/>
<circle cx="174.56" cy="382.15" r="1.45"/>
<circle cx="181.34" cy="377.78" r="1.45"/>
<circle cx="175.11" cy="389.93" r="1.45"/>
<circle cx="178.56" cy="381.34" r="1.45"/>
<circle cx="173.35" cy="378.47" r="1.45"/>
<circle cx="167.81" cy="386.2" r="1.45"/>
<circle cx="169.69" cy="385.63" r="1.45"/>
<circle cx="170.08" cy="389.91" r="1.45"/>
<circle cx="180.79" cy="388.13" r="1.45"/>
<circle cx="171.69" cy="385.44" r="1.45"/>
<circle cx="181.44" cy="389.98" r="1.45"/>
<circle cx="180.66" cy="379.96" r="1.45"/>
<circle cx="177.02" cy="385.29" r="1.45"/>
<circle cx="170.9" cy="379.74" r="1.45"/>
<circle cx="167.69" cy="390.77" r="1.45"/>
<circle cx="181.15" cy="382.1" r="1.45"/>
<circle cx="176.1" cy="380.35" r="1.45"/>
<circle cx="174.53" cy="379.56" r="1.45"/>
<circle cx="171.84" cy="390.49" r="1.45"/>
<circle cx="168.86" cy="383.79" r="1.45"/>
<circle cx="171.49" cy="399.45" r="1.45"/>
<circle cx="170.56" cy="396.58" r="1.45"/>
<circle cx="174.74" cy="403.69" r="1.45"/>
<circle cx="177.66" cy="400.49" r="1.45"/>
<circle cx="170.47" cy="402.03" r="1.45"/>
<circle cx="172.41" cy="395.78" r="1.45"/>
<circle cx="178.89" cy="398.88" r="1.45"/>
<circle cx="170.59" cy="391.97" r="1.45"/>
<circle cx="175.25" cy="400" r="1.45"/>
<circle cx="173.87" cy="397.76" r="1.45"/>
<circle cx="175.37" cy="396.3" r="1.45"/>
<circle cx="177.54" cy="402.87" r="1.45"/>
<circle cx="177.93" cy="396.6" r="1.45"/>
<circle cx="178.55" cy="393.34" r="1.45"/>
<circle cx="173.75" cy="392.23" r="1.45"/>
<circle cx="171.99" cy="393.72" r="1.45"/>
<circle cx="176.89" cy="394.55" r="1.45"/>
<circle cx="172.79" cy="403.12" r="1.45"/>
<circle cx="169.78" cy="394.05" r="1.45"/>
<circle cx="174.08" cy="394.03" r="1.45"/>
<circle cx="176.33" cy="398.3" r="1.45"/>
<circle cx="169.69" cy="403.83" r="1.45"/>
<circle cx="173.7" cy="401.02" r="1.45"/>
<circle cx="179.03" cy="402.48" r="1.45"/>
<circle cx="169.56" cy="398.44" r="1.45"/>
<circle cx="176.81" cy="392.94" r="1.45"/>
<circle cx="175.93" cy="402.21" r="1.45"/>
<circle cx="174.61" cy="405.8" r="1.45"/>
<circle cx="174.81" cy="408.18" r="1.45"/>
<circle cx="172.81" cy="407.57" r="1.45"/>
<circle cx="173.06" cy="404.99" r="1.45"/>
<circle cx="200.25" cy="254.4" r="1.45"/>
<circle cx="200.25" cy="283.9" r="1.45"/>
<circle cx="200.25" cy="295.9" r="1.45"/>
<circle cx="200.25" cy="318.1" r="1.45"/>
<circle cx="197.55" cy="355.4" r="1.45"/>
<circle cx="203.05" cy="355.4" r="1.45"/>
<circle cx="200.25" cy="360.3" r="1.45"/>
<circle cx="205.85" cy="368.2" r="1.45"/>
<circle cx="200.25" cy="371.5" r="1.45"/>
<circle cx="200.25" cy="381.7" r="1.45"/>
<circle cx="196.95" cy="384.4" r="1.45"/>
<circle cx="202.85" cy="384.4" r="1.45"/>
<circle cx="194.45" cy="396.3" r="1.45"/>
<circle cx="200.25" cy="398.6" r="1.45"/>
<circle cx="195.45" cy="399.9" r="1.45"/>
<circle cx="205.95" cy="401.7" r="1.45"/>
<circle cx="200.25" cy="404.5" r="1.45"/>
<circle cx="200.25" cy="408.1" r="1.45"/>
<circle cx="226.29" cy="358.6" r="1.45"/>
<circle cx="226.45" cy="355.5" r="1.45"/>
<circle cx="226.12" cy="353.7" r="1.45"/>
<circle cx="226.08" cy="348.6" r="1.45"/>
<circle cx="226.29" cy="342.6" r="1.45"/>
<circle cx="226.06" cy="339.2" r="1.45"/>
<circle cx="226.15" cy="337.4" r="1.45"/>
<circle cx="226.29" cy="335" r="1.45"/>
<circle cx="226.17" cy="326.8" r="1.45"/>
<circle cx="226.03" cy="317.8" r="1.45"/>
<circle cx="225.99" cy="315.2" r="1.45"/>
<circle cx="226.22" cy="305.3" r="1.45"/>
<circle cx="226.45" cy="296" r="1.45"/>
<circle cx="226.41" cy="283.7" r="1.45"/>
<circle cx="226" cy="277.2" r="1.45"/>
<circle cx="228.2" cy="276.4" r="1.45"/>
<circle cx="226.19" cy="273.8" r="1.45"/>
<circle cx="226.05" cy="254.4" r="1.45"/>
<circle cx="226.18" cy="371.05" r="1.45"/>
<circle cx="225.03" cy="373.13" r="1.45"/>
<circle cx="227.96" cy="375.01" r="1.45"/>
<circle cx="224.19" cy="368.1" r="1.45"/>
<circle cx="228.87" cy="369.67" r="1.45"/>
<circle cx="227.41" cy="361.68" r="1.45"/>
<circle cx="223.7" cy="365.83" r="1.45"/>
<circle cx="227.29" cy="366.22" r="1.45"/>
<circle cx="228.88" cy="365.15" r="1.45"/>
<circle cx="223.64" cy="361.05" r="1.45"/>
<circle cx="225.18" cy="375.95" r="1.45"/>
<circle cx="226.3" cy="363.95" r="1.45"/>
<circle cx="226.81" cy="377.54" r="1.45"/>
<circle cx="225.23" cy="377.69" r="1.45"/>
<circle cx="226.5" cy="398.65" r="1.45"/>
<circle cx="231.82" cy="378.1" r="1.45"/>
<circle cx="230.95" cy="388.83" r="1.45"/>
<circle cx="226.67" cy="395.12" r="1.45"/>
<circle cx="221.92" cy="399.52" r="1.45"/>
<circle cx="223.88" cy="400.43" r="1.45"/>
<circle cx="220.04" cy="379.37" r="1.45"/>
<circle cx="220.74" cy="393.49" r="1.45"/>
<circle cx="223.21" cy="381.74" r="1.45"/>
<circle cx="232.25" cy="384.75" r="1.45"/>
<circle cx="231.53" cy="400.61" r="1.45"/>
<circle cx="225.34" cy="402.74" r="1.45"/>
<circle cx="223.05" cy="397.83" r="1.45"/>
<circle cx="232.32" cy="380.01" r="1.45"/>
<circle cx="227.82" cy="391.67" r="1.45"/>
<circle cx="232.77" cy="382.68" r="1.45"/>
<circle cx="229.73" cy="384.81" r="1.45"/>
<circle cx="224.7" cy="395.28" r="1.45"/>
<circle cx="222.13" cy="383.37" r="1.45"/>
<circle cx="226.22" cy="390.6" r="1.45"/>
<circle cx="229.85" cy="378.37" r="1.45"/>
<circle cx="231.61" cy="396.55" r="1.45"/>
<circle cx="222.02" cy="386.73" r="1.45"/>
<circle cx="221.22" cy="390.97" r="1.45"/>
<circle cx="229.4" cy="382.71" r="1.45"/>
<circle cx="230.7" cy="386.64" r="1.45"/>
<circle cx="227.33" cy="387.24" r="1.45"/>
<circle cx="225.3" cy="383.21" r="1.45"/>
<circle cx="230.74" cy="394.86" r="1.45"/>
<circle cx="228.7" cy="388.75" r="1.45"/>
<circle cx="221.72" cy="401.81" r="1.45"/>
<circle cx="224.93" cy="380.25" r="1.45"/>
<circle cx="227.32" cy="382.33" r="1.45"/>
<circle cx="219.55" cy="382.74" r="1.45"/>
<circle cx="222.29" cy="396.09" r="1.45"/>
<circle cx="219.73" cy="399.72" r="1.45"/>
<circle cx="225.65" cy="385.29" r="1.45"/>
<circle cx="219.19" cy="402.45" r="1.45"/>
<circle cx="228.1" cy="393.56" r="1.45"/>
<circle cx="230.64" cy="391.51" r="1.45"/>
<circle cx="229.53" cy="380.62" r="1.45"/>
<circle cx="220.76" cy="388.2" r="1.45"/>
<circle cx="223.32" cy="390.93" r="1.45"/>
<circle cx="220.58" cy="384.75" r="1.45"/>
<circle cx="219.91" cy="395.67" r="1.45"/>
<circle cx="223.06" cy="388.76" r="1.45"/>
<circle cx="224.94" cy="387.16" r="1.45"/>
<circle cx="231.85" cy="402.52" r="1.45"/>
<circle cx="228.33" cy="402.94" r="1.45"/>
<circle cx="229.3" cy="396.49" r="1.45"/>
<circle cx="228.64" cy="399.07" r="1.45"/>
<circle cx="219.01" cy="387.19" r="1.45"/>
<circle cx="232.74" cy="388.13" r="1.45"/>
<circle cx="219.18" cy="392.38" r="1.45"/>
<circle cx="231.89" cy="398.6" r="1.45"/>
<circle cx="227.16" cy="401.19" r="1.45"/>
<circle cx="219.44" cy="397.69" r="1.45"/>
<circle cx="222.9" cy="378.17" r="1.45"/>
<circle cx="230.13" cy="404.73" r="1.45"/>
<circle cx="226.63" cy="404.39" r="1.45"/>
<circle cx="222.28" cy="406.25" r="1.45"/>
<circle cx="223.1" cy="404.15" r="1.45"/>
<circle cx="224.65" cy="406.45" r="1.45"/>
<circle cx="227.46" cy="406.22" r="1.45"/>
<circle cx="225.94" cy="409.12" r="1.45"/>
<circle cx="227.57" cy="409.35" r="1.45"/>
<circle cx="226.1" cy="407.36" r="1.45"/>
<circle cx="365.6" cy="33.2" r="1.45"/>
<circle cx="365.6" cy="88.1" r="1.45"/>
<circle cx="365.6" cy="91.5" r="1.45"/>
<circle cx="365.6" cy="100.4" r="1.45"/>
<circle cx="365.6" cy="113.4" r="1.45"/>
<circle cx="365.6" cy="116" r="1.45"/>
<circle cx="365.6" cy="126.5" r="1.45"/>
<circle cx="391.6" cy="88.1" r="1.45"/>
<circle cx="391.6" cy="91.5" r="1.45"/>
<circle cx="417.6" cy="33.2" r="1.45"/>
<circle cx="417.6" cy="100.4" r="1.45"/>
<circle cx="417.6" cy="113.4" r="1.45"/>
<circle cx="417.6" cy="116" r="1.45"/>
<circle cx="417.6" cy="126.5" r="1.45"/>
<circle cx="443.6" cy="88.1" r="1.45"/>
<circle cx="443.6" cy="113.4" r="1.45"/>
<circle cx="443.6" cy="116" r="1.45"/>
<circle cx="469.6" cy="33.2" r="1.45"/>
<circle cx="469.6" cy="91.5" r="1.45"/>
<circle cx="469.6" cy="100.4" r="1.45"/>
<circle cx="469.6" cy="126.5" r="1.45"/>
<circle cx="495.6" cy="88.1" r="1.45"/>
<circle cx="495.6" cy="91.5" r="1.45"/>
<circle cx="495.6" cy="100.4" r="1.45"/>
<circle cx="521.6" cy="33.2" r="1.45"/>
<circle cx="521.6" cy="113.4" r="1.45"/>
<circle cx="521.6" cy="116" r="1.45"/>
<circle cx="521.6" cy="126.5" r="1.45"/>
<circle cx="367.1" cy="142.8" r="1.45"/>
<circle cx="365.3" cy="144.6" r="1.45"/>
<circle cx="365.6" cy="171.4" r="1.45"/>
<circle cx="365.6" cy="179.8" r="1.45"/>
<circle cx="367.1" cy="192.1" r="1.45"/>
<circle cx="364" cy="195.7" r="1.45"/>
<circle cx="367.3" cy="196.4" r="1.45"/>
<circle cx="365.8" cy="199" r="1.45"/>
<circle cx="365.6" cy="205.4" r="1.45"/>
<circle cx="365.6" cy="228.9" r="1.45"/>
<circle cx="365.6" cy="238.1" r="1.45"/>
<circle cx="365.6" cy="253.9" r="1.45"/>
<circle cx="388.8" cy="195.7" r="1.45"/>
<circle cx="394.4" cy="195.7" r="1.45"/>
<circle cx="391.6" cy="228.9" r="1.45"/>
<circle cx="419.1" cy="142.8" r="1.45"/>
<circle cx="417.6" cy="144.6" r="1.45"/>
<circle cx="417.6" cy="171.4" r="1.45"/>
<circle cx="417.6" cy="179.8" r="1.45"/>
<circle cx="417.1" cy="192.6" r="1.45"/>
<circle cx="418.8" cy="195.9" r="1.45"/>
<circle cx="416.8" cy="199" r="1.45"/>
<circle cx="417.6" cy="205.9" r="1.45"/>
<circle cx="417.6" cy="238.1" r="1.45"/>
<circle cx="417.6" cy="253.9" r="1.45"/>
<circle cx="443.6" cy="144.6" r="1.45"/>
<circle cx="443.6" cy="196.4" r="1.45"/>
<circle cx="443.6" cy="228.9" r="1.45"/>
<circle cx="443.6" cy="253.9" r="1.45"/>
<circle cx="469.6" cy="142.8" r="1.45"/>
<circle cx="469.6" cy="171.4" r="1.45"/>
<circle cx="469.6" cy="179.8" r="1.45"/>
<circle cx="471.4" cy="192.6" r="1.45"/>
<circle cx="467.6" cy="193.9" r="1.45"/>
<circle cx="469.6" cy="197.7" r="1.45"/>
<circle cx="469.6" cy="205.9" r="1.45"/>
<circle cx="469.6" cy="238.1" r="1.45"/>
<circle cx="495.6" cy="142.8" r="1.45"/>
<circle cx="495.6" cy="171.4" r="1.45"/>
<circle cx="495.6" cy="179.8" r="1.45"/>
<circle cx="489.7" cy="195.9" r="1.45"/>
<circle cx="501.2" cy="192.6" r="1.45"/>
<circle cx="495.6" cy="197.7" r="1.45"/>
<circle cx="495.6" cy="228.9" r="1.45"/>
<circle cx="495.6" cy="238.1" r="1.45"/>
<circle cx="495.6" cy="253.9" r="1.45"/>
<circle cx="521.6" cy="144.6" r="1.45"/>
<circle cx="521.6" cy="195.2" r="1.45"/>
<circle cx="521.6" cy="199" r="1.45"/>
<circle cx="521.6" cy="205.9" r="1.45"/>
<circle cx="365.51" cy="324.3" r="1.45"/>
<circle cx="365.38" cy="321.4" r="1.45"/>
<circle cx="367.8" cy="321.2" r="1.45"/>
<circle cx="365.77" cy="315.4" r="1.45"/>
<circle cx="365.47" cy="308.5" r="1.45"/>
<circle cx="365.48" cy="305.9" r="1.45"/>
<circle cx="365.7" cy="302.1" r="1.45"/>
<circle cx="365.75" cy="299.5" r="1.45"/>
<circle cx="365.58" cy="290" r="1.45"/>
<circle cx="365.54" cy="282.2" r="1.45"/>
<circle cx="367.47" cy="280.5" r="1.45"/>
<circle cx="365.75" cy="280.4" r="1.45"/>
<circle cx="366.24" cy="353.24" r="1.45"/>
<circle cx="365.77" cy="328.74" r="1.45"/>
<circle cx="365.99" cy="357.22" r="1.45"/>
<circle cx="364.96" cy="340.02" r="1.45"/>
<circle cx="365.55" cy="346.77" r="1.45"/>
<circle cx="365.46" cy="344.25" r="1.45"/>
<circle cx="366.37" cy="333.16" r="1.45"/>
<circle cx="364.92" cy="348.88" r="1.45"/>
<circle cx="366" cy="330.94" r="1.45"/>
<circle cx="366.4" cy="335.81" r="1.45"/>
<circle cx="364.92" cy="326.11" r="1.45"/>
<circle cx="364.15" cy="368.91" r="1.45"/>
<circle cx="366.12" cy="363.82" r="1.45"/>
<circle cx="365.67" cy="375.71" r="1.45"/>
<circle cx="364.55" cy="360.82" r="1.45"/>
<circle cx="367.4" cy="366.47" r="1.45"/>
<circle cx="365.18" cy="372.89" r="1.45"/>
<circle cx="365.14" cy="367.2" r="1.45"/>
<circle cx="367.37" cy="373.18" r="1.45"/>
<circle cx="367.7" cy="362.71" r="1.45"/>
<circle cx="364.59" cy="365.33" r="1.45"/>
<circle cx="367.3" cy="360.4" r="1.45"/>
<circle cx="364.12" cy="358.59" r="1.45"/>
<circle cx="366.71" cy="377.33" r="1.45"/>
<circle cx="361.97" cy="381.92" r="1.45"/>
<circle cx="363.65" cy="389.29" r="1.45"/>
<circle cx="362.54" cy="387.75" r="1.45"/>
<circle cx="364.45" cy="385.51" r="1.45"/>
<circle cx="363.19" cy="379.16" r="1.45"/>
<circle cx="369.43" cy="387.27" r="1.45"/>
<circle cx="367.05" cy="385.39" r="1.45"/>
<circle cx="363.78" cy="381.24" r="1.45"/>
<circle cx="369.48" cy="379" r="1.45"/>
<circle cx="369.05" cy="383.01" r="1.45"/>
<circle cx="363.04" cy="383.87" r="1.45"/>
<circle cx="365.35" cy="388.28" r="1.45"/>
<circle cx="366.42" cy="379.65" r="1.45"/>
<circle cx="366.01" cy="382.43" r="1.45"/>
<circle cx="368.68" cy="381.15" r="1.45"/>
<circle cx="367.58" cy="388.36" r="1.45"/>
<circle cx="364.93" cy="378.21" r="1.45"/>
<circle cx="369.5" cy="384.68" r="1.45"/>
<circle cx="369.36" cy="389.03" r="1.45"/>
<circle cx="361.69" cy="389.32" r="1.45"/>
<circle cx="359.77" cy="397.5" r="1.45"/>
<circle cx="364.5" cy="399.33" r="1.45"/>
<circle cx="361.62" cy="401.62" r="1.45"/>
<circle cx="359.64" cy="390.12" r="1.45"/>
<circle cx="363.51" cy="402.23" r="1.45"/>
<circle cx="366.17" cy="396.26" r="1.45"/>
<circle cx="366.75" cy="390.78" r="1.45"/>
<circle cx="363.11" cy="395.34" r="1.45"/>
<circle cx="368.36" cy="400.38" r="1.45"/>
<circle cx="372.35" cy="397.84" r="1.45"/>
<circle cx="370.85" cy="402.19" r="1.45"/>
<circle cx="369.8" cy="391.13" r="1.45"/>
<circle cx="367.03" cy="402.54" r="1.45"/>
<circle cx="370.88" cy="392.96" r="1.45"/>
<circle cx="361.84" cy="397.11" r="1.45"/>
<circle cx="368.67" cy="395.7" r="1.45"/>
<circle cx="367.03" cy="393.61" r="1.45"/>
<circle cx="363.66" cy="391.6" r="1.45"/>
<circle cx="365.09" cy="393.19" r="1.45"/>
<circle cx="366.99" cy="398.68" r="1.45"/>
<circle cx="370.02" cy="397.95" r="1.45"/>
<circle cx="360.55" cy="393.85" r="1.45"/>
<circle cx="359.07" cy="395.58" r="1.45"/>
<circle cx="365.49" cy="401.32" r="1.45"/>
<circle cx="370.92" cy="395.87" r="1.45"/>
<circle cx="359.09" cy="399.68" r="1.45"/>
<circle cx="372.74" cy="390.02" r="1.45"/>
<circle cx="362.25" cy="399.21" r="1.45"/>
<circle cx="372.04" cy="399.86" r="1.45"/>
<circle cx="359.25" cy="402.52" r="1.45"/>
<circle cx="361.04" cy="391.91" r="1.45"/>
<circle cx="358.88" cy="392.12" r="1.45"/>
<circle cx="372.11" cy="394.3" r="1.45"/>
<circle cx="369.05" cy="393.76" r="1.45"/>
<circle cx="368.97" cy="402.57" r="1.45"/>
<circle cx="364.36" cy="396.67" r="1.45"/>
<circle cx="368.3" cy="397.44" r="1.45"/>
<circle cx="362.18" cy="392.97" r="1.45"/>
<circle cx="358.44" cy="393.72" r="1.45"/>
<circle cx="372.75" cy="392.39" r="1.45"/>
<circle cx="365.25" cy="404.48" r="1.45"/>
<circle cx="365.42" cy="406.92" r="1.45"/>
<circle cx="367.41" cy="404.46" r="1.45"/>
<circle cx="368.32" cy="406.64" r="1.45"/>
<circle cx="362.6" cy="404.16" r="1.45"/>
<circle cx="391.6" cy="279.6" r="1.45"/>
<circle cx="391.6" cy="302.6" r="1.45"/>
<circle cx="391.6" cy="310.3" r="1.45"/>
<circle cx="388.6" cy="323" r="1.45"/>
<circle cx="394.2" cy="321.2" r="1.45"/>
<circle cx="391.6" cy="383.2" r="1.45"/>
<circle cx="388.6" cy="397.2" r="1.45"/>
<circle cx="394.4" cy="397.2" r="1.45"/>
<circle cx="417.85" cy="331.5" r="1.45"/>
<circle cx="417.5" cy="328.1" r="1.45"/>
<circle cx="417.82" cy="324.3" r="1.45"/>
<circle cx="417.36" cy="321.8" r="1.45"/>
<circle cx="417.53" cy="299.5" r="1.45"/>
<circle cx="417.74" cy="290" r="1.45"/>
<circle cx="417.69" cy="282.2" r="1.45"/>
<circle cx="419.69" cy="280.5" r="1.45"/>
<circle cx="417.59" cy="280.4" r="1.45"/>
<circle cx="418.2" cy="335.28" r="1.45"/>
<circle cx="417.56" cy="352.03" r="1.45"/>
<circle cx="418.15" cy="347.05" r="1.45"/>
<circle cx="418.03" cy="345.11" r="1.45"/>
<circle cx="417.38" cy="349.84" r="1.45"/>
<circle cx="418.39" cy="355.48" r="1.45"/>
<circle cx="417.48" cy="341.78" r="1.45"/>
<circle cx="417.6" cy="338.44" r="1.45"/>
<circle cx="417.83" cy="357.51" r="1.45"/>
<circle cx="419.4" cy="379.48" r="1.45"/>
<circle cx="418.79" cy="361.9" r="1.45"/>
<circle cx="418.03" cy="366.38" r="1.45"/>
<circle cx="418.65" cy="370.39" r="1.45"/>
<circle cx="416.63" cy="379.92" r="1.45"/>
<circle cx="419.32" cy="376.27" r="1.45"/>
<circle cx="417" cy="376.3" r="1.45"/>
<circle cx="418.76" cy="364.59" r="1.45"/>
<circle cx="416.36" cy="368.98" r="1.45"/>
<circle cx="417.37" cy="372.13" r="1.45"/>
<circle cx="415.44" cy="377.96" r="1.45"/>
<circle cx="415.56" cy="363.53" r="1.45"/>
<circle cx="416.58" cy="360.35" r="1.45"/>
<circle cx="416.56" cy="374.37" r="1.45"/>
<circle cx="418.38" cy="383.51" r="1.45"/>
<circle cx="421.09" cy="381.49" r="1.45"/>
<circle cx="417.55" cy="388.21" r="1.45"/>
<circle cx="414.22" cy="384.61" r="1.45"/>
<circle cx="419.78" cy="386.54" r="1.45"/>
<circle cx="414.39" cy="382.18" r="1.45"/>
<circle cx="420.58" cy="390.82" r="1.45"/>
<circle cx="419.24" cy="389.18" r="1.45"/>
<circle cx="415.62" cy="389.19" r="1.45"/>
<circle cx="417.95" cy="386.05" r="1.45"/>
<circle cx="413.73" cy="386.84" r="1.45"/>
<circle cx="414.27" cy="390.65" r="1.45"/>
<circle cx="416.42" cy="384.09" r="1.45"/>
<circle cx="415.87" cy="386.95" r="1.45"/>
<circle cx="418.06" cy="390.84" r="1.45"/>
<circle cx="416.58" cy="381.84" r="1.45"/>
<circle cx="420.63" cy="384.34" r="1.45"/>
<circle cx="416.59" cy="396.95" r="1.45"/>
<circle cx="411.93" cy="391.03" r="1.45"/>
<circle cx="416.95" cy="400.77" r="1.45"/>
<circle cx="416.9" cy="394.38" r="1.45"/>
<circle cx="421.34" cy="400.61" r="1.45"/>
<circle cx="414.97" cy="393.29" r="1.45"/>
<circle cx="421.24" cy="397.04" r="1.45"/>
<circle cx="418.57" cy="402.58" r="1.45"/>
<circle cx="412.28" cy="398.8" r="1.45"/>
<circle cx="411.18" cy="401.43" r="1.45"/>
<circle cx="424.74" cy="391.64" r="1.45"/>
<circle cx="418.39" cy="395.72" r="1.45"/>
<circle cx="423.59" cy="396.35" r="1.45"/>
<circle cx="424.73" cy="398.14" r="1.45"/>
<circle cx="414.96" cy="397.94" r="1.45"/>
<circle cx="412.59" cy="395.82" r="1.45"/>
<circle cx="413.92" cy="402.01" r="1.45"/>
<circle cx="423.4" cy="394.08" r="1.45"/>
<circle cx="411.08" cy="394.37" r="1.45"/>
<circle cx="419.33" cy="397.61" r="1.45"/>
<circle cx="424.29" cy="400.62" r="1.45"/>
<circle cx="415.06" cy="395.52" r="1.45"/>
<circle cx="420.35" cy="394.98" r="1.45"/>
<circle cx="416.17" cy="391.03" r="1.45"/>
<circle cx="411.18" cy="397.19" r="1.45"/>
<circle cx="421.52" cy="402.51" r="1.45"/>
<circle cx="422.49" cy="398.87" r="1.45"/>
<circle cx="419.06" cy="392.93" r="1.45"/>
<circle cx="414.95" cy="399.71" r="1.45"/>
<circle cx="418.65" cy="399.43" r="1.45"/>
<circle cx="410.67" cy="399.49" r="1.45"/>
<circle cx="422.85" cy="391.18" r="1.45"/>
<circle cx="420.38" cy="399.13" r="1.45"/>
<circle cx="415.7" cy="402.27" r="1.45"/>
<circle cx="424.72" cy="402.25" r="1.45"/>
<circle cx="417.18" cy="392.35" r="1.45"/>
<circle cx="418.81" cy="404.91" r="1.45"/>
<circle cx="415.88" cy="406.92" r="1.45"/>
<circle cx="416.66" cy="404.36" r="1.45"/>
<circle cx="420.02" cy="406.6" r="1.45"/>
<circle cx="414.71" cy="404.93" r="1.45"/>
<circle cx="443.6" cy="299.5" r="1.45"/>
<circle cx="443.6" cy="302.6" r="1.45"/>
<circle cx="443.6" cy="310.3" r="1.45"/>
<circle cx="443.6" cy="336.6" r="1.45"/>
<circle cx="443.6" cy="352.4" r="1.45"/>
<circle cx="443.6" cy="358.8" r="1.45"/>
<circle cx="443.6" cy="372" r="1.45"/>
<circle cx="443.6" cy="380.8" r="1.45"/>
<circle cx="443.6" cy="385.1" r="1.45"/>
<circle cx="438" cy="383.3" r="1.45"/>
<circle cx="440.7" cy="392" r="1.45"/>
<circle cx="446.5" cy="392" r="1.45"/>
<circle cx="443.6" cy="395.9" r="1.45"/>
<circle cx="438" cy="397.2" r="1.45"/>
<circle cx="449.1" cy="397.2" r="1.45"/>
<circle cx="443.6" cy="399.9" r="1.45"/>
<circle cx="443.6" cy="405.9" r="1.45"/>
<circle cx="469.5" cy="323" r="1.45"/>
<circle cx="471.82" cy="321.4" r="1.45"/>
<circle cx="469.49" cy="321.2" r="1.45"/>
<circle cx="469.49" cy="306.9" r="1.45"/>
<circle cx="469.58" cy="289.8" r="1.45"/>
<circle cx="469.79" cy="282.9" r="1.45"/>
<circle cx="469.75" cy="280.9" r="1.45"/>
<circle cx="471.54" cy="279.6" r="1.45"/>
<circle cx="468.75" cy="348.31" r="1.45"/>
<circle cx="469.37" cy="329.08" r="1.45"/>
<circle cx="468.8" cy="332.95" r="1.45"/>
<circle cx="469.74" cy="336.15" r="1.45"/>
<circle cx="469.3" cy="343.49" r="1.45"/>
<circle cx="468.9" cy="345.55" r="1.45"/>
<circle cx="469.08" cy="356.53" r="1.45"/>
<circle cx="469.18" cy="341.22" r="1.45"/>
<circle cx="470.45" cy="354.02" r="1.45"/>
<circle cx="469.22" cy="338.25" r="1.45"/>
<circle cx="470.12" cy="350.98" r="1.45"/>
<circle cx="470.54" cy="372.82" r="1.45"/>
<circle cx="469.13" cy="361.9" r="1.45"/>
<circle cx="467.21" cy="368.77" r="1.45"/>
<circle cx="467.53" cy="373.39" r="1.45"/>
<circle cx="471.95" cy="362.53" r="1.45"/>
<circle cx="470.81" cy="370.76" r="1.45"/>
<circle cx="467.33" cy="375.31" r="1.45"/>
<circle cx="468.14" cy="366.41" r="1.45"/>
<circle cx="471.77" cy="364.44" r="1.45"/>
<circle cx="470.82" cy="366.32" r="1.45"/>
<circle cx="470.73" cy="374.92" r="1.45"/>
<circle cx="469.22" cy="363.99" r="1.45"/>
<circle cx="472.16" cy="377.33" r="1.45"/>
<circle cx="470.34" cy="359.75" r="1.45"/>
<circle cx="467.69" cy="377.21" r="1.45"/>
<circle cx="469.73" cy="388.1" r="1.45"/>
<circle cx="466.43" cy="384.64" r="1.45"/>
<circle cx="472.2" cy="384.39" r="1.45"/>
<circle cx="474.4" cy="385.01" r="1.45"/>
<circle cx="471.97" cy="381.2" r="1.45"/>
<circle cx="469.23" cy="383.02" r="1.45"/>
<circle cx="467.16" cy="387.32" r="1.45"/>
<circle cx="469.5" cy="385.84" r="1.45"/>
<circle cx="472.57" cy="387.57" r="1.45"/>
<circle cx="464.61" cy="388.96" r="1.45"/>
<circle cx="467.35" cy="381.54" r="1.45"/>
<circle cx="469.61" cy="380.76" r="1.45"/>
<circle cx="465.15" cy="382.93" r="1.45"/>
<circle cx="474.32" cy="383.06" r="1.45"/>
<circle cx="473.99" cy="380.26" r="1.45"/>
<circle cx="465.2" cy="386.69" r="1.45"/>
<circle cx="465.71" cy="380.77" r="1.45"/>
<circle cx="474.57" cy="387.03" r="1.45"/>
<circle cx="469.36" cy="392.9" r="1.45"/>
<circle cx="474.57" cy="394.85" r="1.45"/>
<circle cx="470.33" cy="397.06" r="1.45"/>
<circle cx="464.22" cy="393.59" r="1.45"/>
<circle cx="465.86" cy="391.29" r="1.45"/>
<circle cx="476.56" cy="390.24" r="1.45"/>
<circle cx="469.91" cy="394.9" r="1.45"/>
<circle cx="475.31" cy="391.93" r="1.45"/>
<circle cx="474.98" cy="398.65" r="1.45"/>
<circle cx="469.33" cy="401.97" r="1.45"/>
<circle cx="466.77" cy="395.21" r="1.45"/>
<circle cx="471.43" cy="393.54" r="1.45"/>
<circle cx="463.11" cy="391.22" r="1.45"/>
<circle cx="462.57" cy="400" r="1.45"/>
<circle cx="472.47" cy="398.1" r="1.45"/>
<circle cx="470.11" cy="390.78" r="1.45"/>
<circle cx="465.6" cy="398.3" r="1.45"/>
<circle cx="472.92" cy="390.59" r="1.45"/>
<circle cx="471.59" cy="400.63" r="1.45"/>
<circle cx="474.47" cy="400.48" r="1.45"/>
<circle cx="462.82" cy="394.98" r="1.45"/>
<circle cx="467.14" cy="399.95" r="1.45"/>
<circle cx="467.86" cy="389.66" r="1.45"/>
<circle cx="476.61" cy="396.07" r="1.45"/>
<circle cx="467.95" cy="397.99" r="1.45"/>
<circle cx="465.27" cy="401.06" r="1.45"/>
<circle cx="463.02" cy="397.76" r="1.45"/>
<circle cx="476.02" cy="401.94" r="1.45"/>
<circle cx="467.36" cy="392.52" r="1.45"/>
<circle cx="473.42" cy="392.89" r="1.45"/>
<circle cx="469.42" cy="400.07" r="1.45"/>
<circle cx="463.04" cy="401.85" r="1.45"/>
<circle cx="472.66" cy="395.91" r="1.45"/>
<circle cx="473.31" cy="389.04" r="1.45"/>
<circle cx="476.71" cy="399.44" r="1.45"/>
<circle cx="475.98" cy="393.52" r="1.45"/>
<circle cx="468.56" cy="405.39" r="1.45"/>
<circle cx="472.57" cy="404.83" r="1.45"/>
<circle cx="466.67" cy="403.54" r="1.45"/>
<circle cx="471.7" cy="402.9" r="1.45"/>
<circle cx="470.11" cy="404.02" r="1.45"/>
<circle cx="489.7" cy="279.6" r="1.45"/>
<circle cx="495.6" cy="279.6" r="1.45"/>
<circle cx="495.6" cy="310.3" r="1.45"/>
<circle cx="500.7" cy="323" r="1.45"/>
<circle cx="495.6" cy="328.1" r="1.45"/>
<circle cx="495.6" cy="338" r="1.45"/>
<circle cx="495.6" cy="349.9" r="1.45"/>
<circle cx="490.2" cy="364.5" r="1.45"/>
<circle cx="495.4" cy="370.3" r="1.45"/>
<circle cx="490.2" cy="380.1" r="1.45"/>
<circle cx="495.4" cy="383.4" r="1.45"/>
<circle cx="490.2" cy="401.4" r="1.45"/>
<circle cx="495.4" cy="400.2" r="1.45"/>
<circle cx="500.8" cy="401" r="1.45"/>
<circle cx="521.65" cy="348.9" r="1.45"/>
<circle cx="521.81" cy="346.6" r="1.45"/>
<circle cx="521.63" cy="338.2" r="1.45"/>
<circle cx="521.83" cy="335.2" r="1.45"/>
<circle cx="521.59" cy="333" r="1.45"/>
<circle cx="521.57" cy="321.8" r="1.45"/>
<circle cx="521.36" cy="306.9" r="1.45"/>
<circle cx="521.51" cy="299.5" r="1.45"/>
<circle cx="521.59" cy="289.8" r="1.45"/>
<circle cx="521.36" cy="282.9" r="1.45"/>
<circle cx="521.57" cy="280.4" r="1.45"/>
<circle cx="521.18" cy="354.88" r="1.45"/>
<circle cx="522.35" cy="373.92" r="1.45"/>
<circle cx="520.8" cy="364.06" r="1.45"/>
<circle cx="521.66" cy="359.38" r="1.45"/>
<circle cx="521.04" cy="367.16" r="1.45"/>
<circle cx="521.75" cy="370.2" r="1.45"/>
<circle cx="521.22" cy="361.4" r="1.45"/>
<circle cx="521.87" cy="356.83" r="1.45"/>
<circle cx="522.48" cy="380.73" r="1.45"/>
<circle cx="520.73" cy="376.88" r="1.45"/>
<circle cx="522.61" cy="383.66" r="1.45"/>
<circle cx="520.64" cy="381.63" r="1.45"/>
<circle cx="524.77" cy="380.82" r="1.45"/>
<circle cx="518.81" cy="377.69" r="1.45"/>
<circle cx="524.79" cy="378.48" r="1.45"/>
<circle cx="519.84" cy="379.5" r="1.45"/>
<circle cx="518.87" cy="382.37" r="1.45"/>
<circle cx="527" cy="387.1" r="1.45"/>
<circle cx="516.85" cy="390.64" r="1.45"/>
<circle cx="525.16" cy="388.52" r="1.45"/>
<circle cx="520.12" cy="400.27" r="1.45"/>
<circle cx="521.04" cy="396.33" r="1.45"/>
<circle cx="518.9" cy="388.82" r="1.45"/>
<circle cx="515.63" cy="397.55" r="1.45"/>
<circle cx="525.03" cy="391.52" r="1.45"/>
<circle cx="523.82" cy="394.9" r="1.45"/>
<circle cx="528.54" cy="398.28" r="1.45"/>
<circle cx="515.42" cy="388.76" r="1.45"/>
<circle cx="515.69" cy="394.63" r="1.45"/>
<circle cx="526.62" cy="398.24" r="1.45"/>
<circle cx="524.59" cy="386.36" r="1.45"/>
<circle cx="518.67" cy="393.72" r="1.45"/>
<circle cx="522.3" cy="392.74" r="1.45"/>
<circle cx="521.6" cy="389.1" r="1.45"/>
<circle cx="525.02" cy="397.12" r="1.45"/>
<circle cx="525.6" cy="393.77" r="1.45"/>
<circle cx="528.22" cy="392.34" r="1.45"/>
<circle cx="522.64" cy="397.6" r="1.45"/>
<circle cx="516.47" cy="400.41" r="1.45"/>
<circle cx="528.05" cy="389.76" r="1.45"/>
<circle cx="520.53" cy="386.71" r="1.45"/>
<circle cx="528.8" cy="394.41" r="1.45"/>
<circle cx="522.21" cy="400.17" r="1.45"/>
<circle cx="518.59" cy="395.99" r="1.45"/>
<circle cx="516.75" cy="386.6" r="1.45"/>
<circle cx="520.48" cy="393.76" r="1.45"/>
<circle cx="520.1" cy="391.73" r="1.45"/>
<circle cx="514.59" cy="386.05" r="1.45"/>
<circle cx="516.35" cy="392.52" r="1.45"/>
<circle cx="519.6" cy="397.68" r="1.45"/>
<circle cx="527.05" cy="395.67" r="1.45"/>
<circle cx="524.59" cy="399.1" r="1.45"/>
<circle cx="527.67" cy="399.79" r="1.45"/>
<circle cx="521.84" cy="391.02" r="1.45"/>
<circle cx="514.37" cy="391.68" r="1.45"/>
<circle cx="519.63" cy="405.57" r="1.45"/>
<circle cx="521.97" cy="402.23" r="1.45"/>
<circle cx="522.55" cy="404.57" r="1.45"/>
<circle cx="520.5" cy="403.61" r="1.45"/>
<circle cx="523.98" cy="401.21" r="1.45"/>
<circle cx="518.77" cy="402.27" r="1.45"/>
</g>
</svg>
</body>
</html>
